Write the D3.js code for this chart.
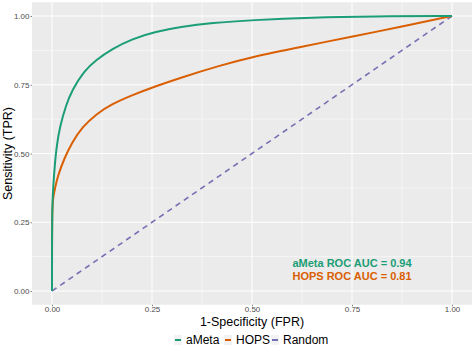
<!DOCTYPE html>
<html>
<head>
<meta charset="utf-8">
<script src="https://cdn.jsdelivr.net/npm/d3@7"></script>
<style>
  body { margin: 0; background: #fff; }
  text { font-family: "Liberation Sans", Arial, sans-serif; }
</style>
</head>
<body>
<div id="chart"></div>
<script>
// ROC curves
var ametaFpr = [0, 0, 0.003, 0.0075, 0.012, 0.02, 0.035, 0.05, 0.08, 0.11, 0.15, 0.2, 0.26, 0.32, 0.4, 0.5, 0.65, 0.8, 1.0];
var ametaTpr = [0, 0.30, 0.38, 0.47, 0.53, 0.60, 0.675, 0.73, 0.80, 0.84, 0.88, 0.917, 0.943, 0.96, 0.975, 0.985, 0.995, 0.999, 1.0];
var hopsFpr = [0, 0, 0.003, 0.0075, 0.015, 0.03, 0.05, 0.075, 0.11, 0.15, 0.2, 0.26, 0.32, 0.42, 0.5, 0.62, 0.75, 0.87, 1.0];
var hopsTpr = [0, 0.30, 0.34, 0.375, 0.42, 0.48, 0.54, 0.595, 0.643, 0.68, 0.712, 0.745, 0.775, 0.82, 0.851, 0.887, 0.925, 0.96, 1.0];
var randomFpr = [0, 1];
var randomTpr = [0, 1];

var seriesNames = ["aMeta", "HOPS", "Random"];
var seriesColors = ["#1b9e77", "#d95f02", "#7570b3"];
var aucLabels = ["aMeta ROC AUC = 0.94", "HOPS ROC AUC = 0.81"];
var aucX = [0.75, 0.75];
var aucY = [0.10, 0.055];
var ticks = [0, 0.25, 0.5, 0.75, 1];
var minorTicks = [0.125, 0.375, 0.625, 0.875];

var w = 474;
var h = 350;

var xScale = d3.scaleLinear().domain([-0.05, 1.05]).range([32, 472]);
var yScale = d3.scaleLinear().domain([-0.05, 1.05]).range([304.75, 2.25]);

var svg = d3.select("#chart").append("svg").attr("width", w).attr("height", h);

// panel
svg.append("rect")
  .attr("x", xScale(-0.05)).attr("y", yScale(1.05))
  .attr("width", xScale(1.05) - xScale(-0.05))
  .attr("height", yScale(-0.05) - yScale(1.05))
  .attr("fill", "#ebebeb");

// grid
minorTicks.forEach(function(t) {
  svg.append("line").attr("x1", xScale(t)).attr("x2", xScale(t))
    .attr("y1", yScale(-0.05)).attr("y2", yScale(1.05))
    .attr("stroke", "#fff").attr("stroke-width", 0.5);
  svg.append("line").attr("y1", yScale(t)).attr("y2", yScale(t))
    .attr("x1", xScale(-0.05)).attr("x2", xScale(1.05))
    .attr("stroke", "#fff").attr("stroke-width", 0.5);
});
ticks.forEach(function(t) {
  svg.append("line").attr("x1", xScale(t)).attr("x2", xScale(t))
    .attr("y1", yScale(-0.05)).attr("y2", yScale(1.05))
    .attr("stroke", "#fff").attr("stroke-width", 1);
  svg.append("line").attr("y1", yScale(t)).attr("y2", yScale(t))
    .attr("x1", xScale(-0.05)).attr("x2", xScale(1.05))
    .attr("stroke", "#fff").attr("stroke-width", 1);
});

// axes
var xAxis = d3.axisBottom(xScale).tickValues(ticks).tickFormat(d3.format(".2f")).tickSize(1.5).tickPadding(0.5);
var yAxis = d3.axisLeft(yScale).tickValues(ticks).tickFormat(d3.format(".2f")).tickSize(1.5).tickPadding(1);

var gx = svg.append("g").attr("transform", "translate(0," + yScale(-0.05) + ")").call(xAxis);
var gy = svg.append("g").attr("transform", "translate(" + xScale(-0.05) + ",0)").call(yAxis);
[gx, gy].forEach(function(g) {
  g.select(".domain").remove();
  g.selectAll(".tick line").attr("stroke", "#333").attr("stroke-width", 0.6);
  g.selectAll(".tick text").attr("fill", "#4d4d4d").style("font-size", "8px")
    .style("font-family", "'Liberation Sans', Arial, sans-serif");
});
gx.selectAll(".tick text").attr("dy", "0.6em");

// curves
var line = d3.line()
  .x(function(d) { return xScale(d[0]); })
  .y(function(d) { return yScale(d[1]); })
  .curve(d3.curveBasis);

var allFpr = [ametaFpr, hopsFpr, randomFpr];
var allTpr = [ametaTpr, hopsTpr, randomTpr];

// Random first, then HOPS, then aMeta on top
[2, 1, 0].forEach(function(k) {
  var pts = d3.zip(allFpr[k], allTpr[k]);
  svg.append("path")
    .datum(pts)
    .attr("d", line)
    .attr("fill", "none")
    .attr("stroke", seriesColors[k])
    .attr("stroke-width", k == 2 ? 1.6 : 2)
    .attr("stroke-dasharray", k == 2 ? "5.5,4.5" : null);
});

// AUC labels
aucLabels.forEach(function(lab, i) {
  svg.append("text")
    .attr("x", xScale(aucX[i])).attr("y", yScale(aucY[i]))
    .attr("text-anchor", "middle").attr("dy", "0.35em")
    .attr("fill", seriesColors[i])
    .style("font-size", "11px").style("font-weight", "bold")
    .text(lab);
});

// axis titles
svg.append("text")
  .attr("x", (xScale(-0.05) + xScale(1.05)) / 2).attr("y", 326)
  .attr("text-anchor", "middle").style("font-size", "12.5px").attr("fill", "#000")
  .text("1-Specificity (FPR)");

svg.append("text")
  .attr("transform", "translate(12," + ((yScale(-0.05) + yScale(1.05)) / 2) + ") rotate(-90)")
  .attr("text-anchor", "middle").style("font-size", "12.5px").attr("fill", "#000")
  .text("Sensitivity (TPR)");

// legend
var legX = [174, 224, 271];
seriesNames.forEach(function(name, i) {
  var g = svg.append("g").attr("transform", "translate(" + legX[i] + ",340)");
  g.append("rect").attr("x", 0).attr("y", -5).attr("width", 8).attr("height", 10).attr("fill", "#f2f2f2");
  g.append("line").attr("x1", 1).attr("x2", 7).attr("y1", 0).attr("y2", 0)
    .attr("stroke", seriesColors[i]).attr("stroke-width", 2);
  g.append("text").attr("x", 12).attr("y", 0).attr("dy", "0.35em")
    .style("font-size", "12px").attr("fill", "#000").text(name);
});
</script>
</body>
</html>
